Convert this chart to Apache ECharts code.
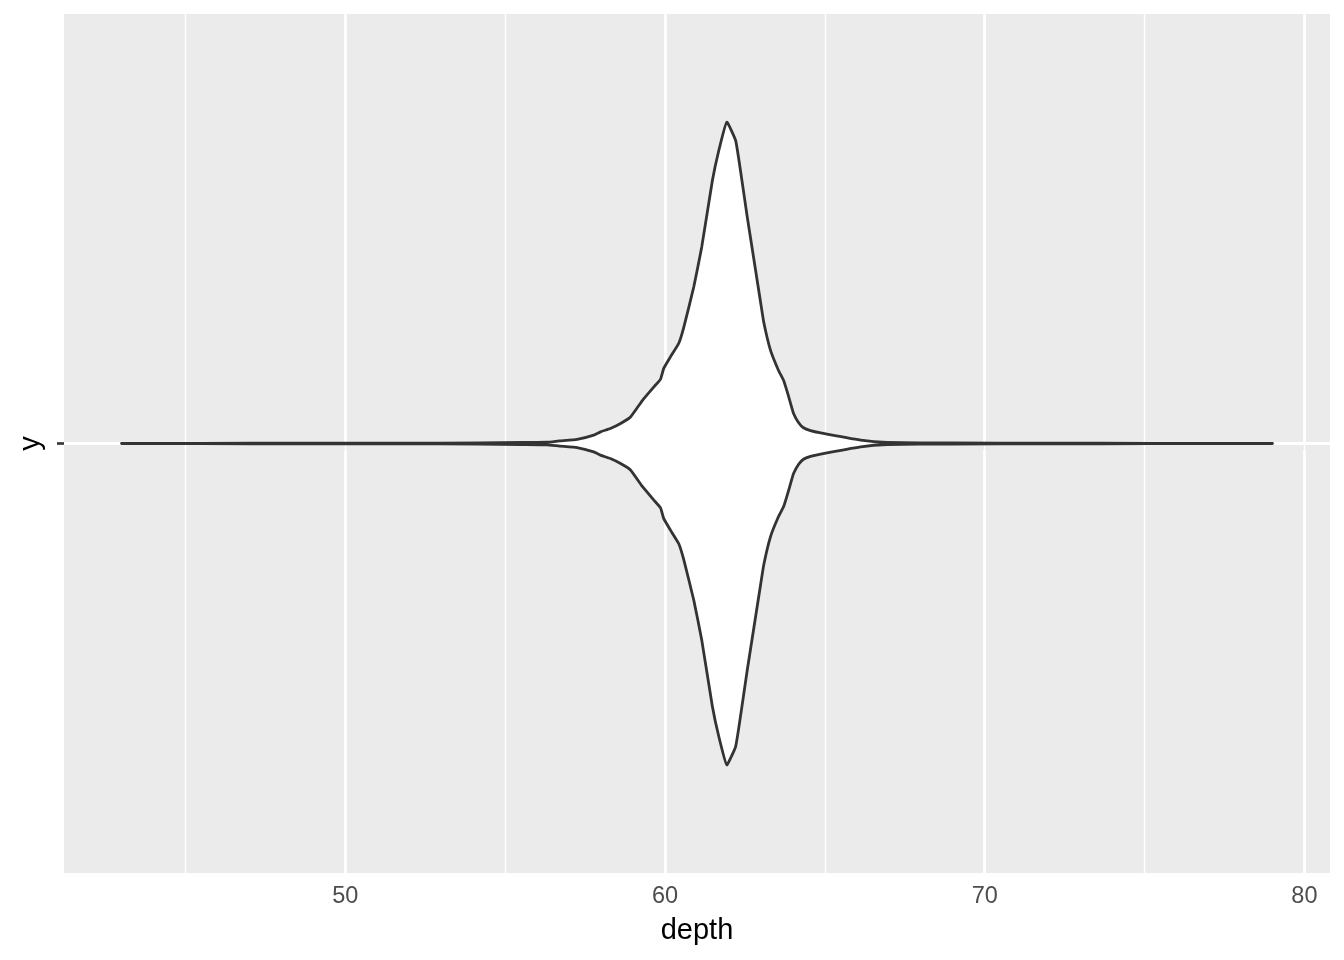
<!DOCTYPE html>
<html>
<head>
<meta charset="utf-8">
<script src="https://cdn.jsdelivr.net/npm/echarts@6/dist/echarts.min.js"></script>
<style>html,body{margin:0;padding:0;background:#fff;}#c{width:1344px;height:960px;}</style>
</head>
<body>
<div id="c"></div>
<script>
// depth values along the violin outline
const depth = [43.0, 45.5, 48.6, 51.7, 54.2, 55.5, 56.3, 56.7, 57.25, 57.77, 57.98, 58.29, 58.61, 58.92, 59.29, 59.65, 59.86, 59.96, 60.17, 60.43, 60.59, 60.90, 61.15, 61.48, 61.68, 61.93, 62.21, 62.42, 62.57, 62.78, 62.99, 63.09, 63.30, 63.55, 63.71, 63.83, 63.92, 64.02, 64.18, 64.33, 64.55, 64.87, 66.12, 66.95, 68.94, 72.07, 75.20, 79.0];
// violin half-width (scaled density, max 0.45)
const halfWidth = [0, 0.0003, 0.0004, 0.0005, 0.0008, 0.0014, 0.0018, 0.0036, 0.0056, 0.0116, 0.0162, 0.021, 0.028, 0.037, 0.060, 0.079, 0.090, 0.105, 0.121, 0.140, 0.163, 0.219, 0.275, 0.367, 0.409, 0.449, 0.423, 0.363, 0.317, 0.257, 0.197, 0.169, 0.130, 0.102, 0.088, 0.071, 0.057, 0.042, 0.029, 0.022, 0.018, 0.0147, 0.0046, 0.0014, 0.0007, 0.0004, 0.0003, 0];
const majorTicks = [50, 60, 70, 80];
const minorTicks = [45, 55, 65, 75];
const xTitle = 'depth';
const yTitle = 'y';

const chart = echarts.init(document.getElementById('c'), null, {renderer: 'canvas'});
const font = 'Liberation Sans, Arial, sans-serif';
chart.setOption({
  animation: false,
  backgroundColor: '#ffffff',
  grid: {left: 64, right: 14, top: 14, bottom: 87, show: true, backgroundColor: '#EBEBEB', borderWidth: 0, outerBoundsMode: 'none', containLabel: false},
  xAxis: {
    type: 'value', min: 41.2, max: 80.8,
    name: xTitle, nameLocation: 'middle', nameGap: 43,
    nameTextStyle: {color: '#000', fontSize: 29, fontFamily: font},
    axisLine: {show: false},
    axisTick: {show: true, inside: false, length: 7, lineStyle: {color: '#333333', width: 2.6}, customValues: majorTicks},
    axisLabel: {show: true, margin: 12, color: '#4D4D4D', fontSize: 23.5, fontFamily: font, customValues: majorTicks},
    splitLine: {show: false}
  },
  yAxis: {
    type: 'value', min: -0.6, max: 0.6, interval: 0.6,
    name: yTitle, nameLocation: 'middle', nameGap: 19, nameRotate: 90,
    nameTextStyle: {color: '#000', fontSize: 29, fontFamily: font},
    axisLine: {show: false},
    axisTick: {show: true, inside: false, length: 7, lineStyle: {color: '#333333', width: 2.6}, customValues: [0]},
    axisLabel: {show: false},
    splitLine: {show: false}
  },
  series: [
    {
      type: 'line', data: [], silent: true, z: 1,
      markLine: {
        silent: true, symbol: 'none', label: {show: false}, animation: false, z: 1,
        data: [
          ...minorTicks.map(v => ({xAxis: v, lineStyle: {color: '#ffffff', width: 1.4, type: 'solid'}})),
          ...majorTicks.map(v => ({xAxis: v, lineStyle: {color: '#ffffff', width: 2.8, type: 'solid'}})),
          {yAxis: 0, lineStyle: {color: '#ffffff', width: 2.8, type: 'solid'}}
        ]
      }
    },
    {
      type: 'custom', z: 10, silent: true,
      data: [0],
      renderItem: function (params, api) {
        const pts = [];
        for (let i = 0; i < depth.length; i++) pts.push(api.coord([depth[i], halfWidth[i]]));
        for (let i = depth.length - 1; i >= 0; i--) pts.push(api.coord([depth[i], -halfWidth[i]]));
        return {
          type: 'polygon',
          shape: {points: pts, smooth: 0.12},
          style: {fill: '#ffffff', stroke: '#333333', lineWidth: 2.8, lineJoin: 'round'}
        };
      }
    }
  ]
});
</script>
</body>
</html>
